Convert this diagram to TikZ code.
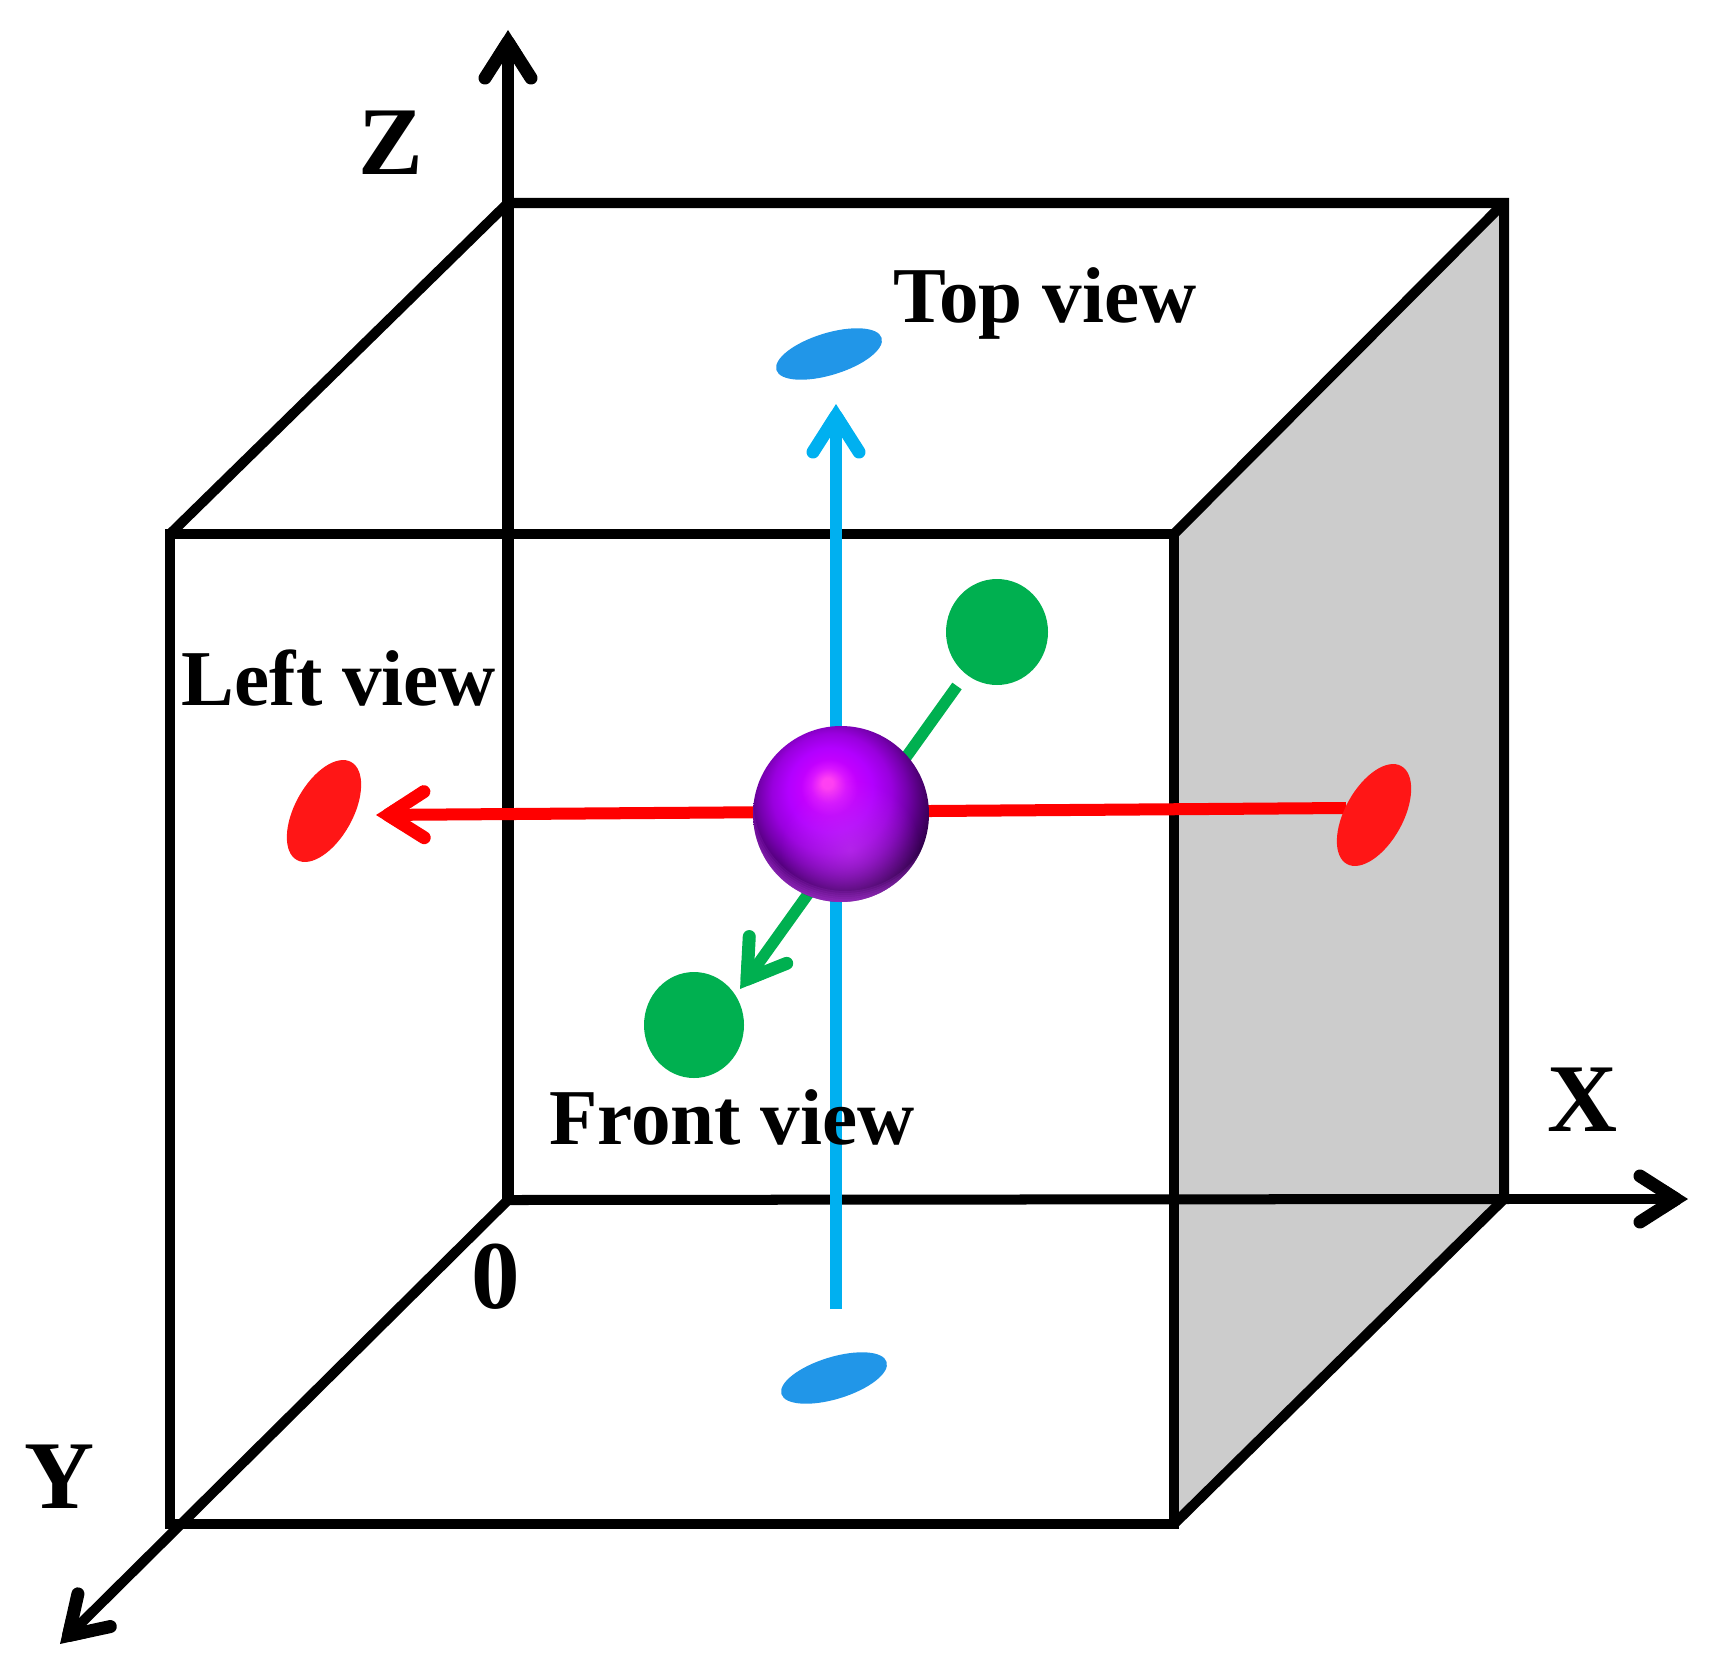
\documentclass[tikz,border=0pt]{standalone}
\usepackage{fontspec}
\setmainfont{Liberation Serif}
\usetikzlibrary{arrows.meta,fadings}
\definecolor{viewblue}{HTML}{00B0F0}
\definecolor{dotblue}{HTML}{2196E8}
\definecolor{viewred}{HTML}{FF0000}
\definecolor{dotred}{HTML}{FF1616}
\definecolor{viewgreen}{HTML}{00B050}
\definecolor{ballrim}{rgb}{0.8,0.25,1}
\definecolor{ballglow}{rgb}{0.78,0.25,0.95}
\pgfdeclareradialshading{atomball}{\pgfpoint{-4bp}{9bp}}{
	rgb(0bp)=(1,0.25,0.95);
	rgb(1.5bp)=(1,0.25,0.95);
	rgb(5bp)=(0.85,0.08,1);
	rgb(8bp)=(0.76,0,1);
	rgb(12bp)=(0.7,0,1);
	rgb(17bp)=(0.6,0,0.87);
	rgb(21bp)=(0.46,0,0.68);
	rgb(25bp)=(0.3,0,0.45);
	rgb(29bp)=(0.16,0,0.25);
	rgb(34bp)=(0.08,0,0.12);
	rgb(50bp)=(0.08,0,0.12)}
\tikzfading[name=glowfade, inner color=transparent!45, outer color=transparent!100]
\tikzset{
	viewtip/.style={-{Straight Barb[length=0.36cm,width=0.46cm,round,line width=0.13cm,sep=-0.185cm]Triangle[length=0.24cm,width=0.3cm,line width=0pt]}},
	axis/.style={line width=0.1cm, viewtip},
	boxline/.style={line width=0.1cm, line join=miter},
	labeltext/.style={font=\bfseries\fontsize{22.5}{24}\selectfont, anchor=base, inner sep=0},
	axislabel/.style={font=\bfseries\fontsize{27.6}{30}\selectfont, anchor=base, inner sep=0},
}
\begin{document}
\begin{tikzpicture}[x=0.01cm, y=-0.01cm]
			%%%%% START %%%%%
			\useasboundingbox (0, 0) rectangle (1713, 1673);
			
			\coordinate (origin) at (508, 1200);
			\coordinate (backtl) at (508, 203);
			\coordinate (backtr) at (1504, 203);
			\coordinate (backbr) at (1504, 1199);
			\coordinate (fronttl) at (170, 534);
			\coordinate (fronttr) at (1174, 534);
			\coordinate (frontbl) at (170, 1524);
			\coordinate (frontbr) at (1174, 1524);
			
			\fill[black!20] (fronttr) -- (backtr) -- (backbr) -- (frontbr) -- cycle;
			
			\draw[boxline] (fronttl) rectangle (frontbr);
			\draw[boxline] (fronttl) -- (backtl) -- (backtr) -- (backbr) -- (origin);
			\draw[boxline] (fronttr) -- (backtr);
			\draw[boxline] (frontbr) -- (backbr);
			
			\draw[axis, line width=0.115cm] (origin) -- (508, 30);
			\draw[axis] (backbr) -- (1688, 1199);
			\draw[axis] (origin) -- (60, 1644);
			
			\draw[line width=0.12cm, viewblue, viewtip] (836, 1309) -- (836, 404);
			\draw[line width=0.12cm, viewred, viewtip] (1346, 808) -- (376, 815);
			\draw[line width=0.115cm, viewgreen, viewtip] (957, 686) -- (740, 989);
			
			\fill[viewgreen] (997, 632) ellipse (51 and 53);
			\fill[viewgreen] (694, 1025) ellipse (50 and 53);
			\fill[dotred, rotate around={61:(324, 811)}] (324, 811) ellipse (56 and 29);
			\fill[dotred, rotate around={61:(1374, 815)}] (1374, 815) ellipse (56 and 29);
			\fill[dotblue, rotate around={17:(829, 354)}] (829, 354) ellipse (55 and 21);
			\fill[dotblue, rotate around={17:(834, 1378)}] (834, 1378) ellipse (55 and 21);
			
			\shade[shading=atomball] (841, 814) circle (88);
			\begin{scope}
				\clip (841, 814) circle (88);
				\fill[ballglow, path fading=glowfade] (850, 850) circle (70);
				\foreach \rimr in {102, 100, 98, 96, 94, 92}
					\fill[ballrim, opacity=0.13, even odd rule] (841, 814) circle (90) (845, 799) circle (\rimr);
			\end{scope}
			
			\node[labeltext] (topview) at (1045, 323) {Top view};
			\node[labeltext] (leftview) at (339, 705) {Left view};
			\node[labeltext] (frontview) at (732, 1144) {Front view};
			\node[axislabel] (zlabel) at (391, 175) {Z};
			\node[axislabel] (xlabel) at (1583, 1131) {X};
			\node[axislabel] (ylabel) at (60, 1508) {Y};
			\node[axislabel] (zerolabel) at (496, 1308) {0};
			
			%%%%% END %%%%%
		\end{tikzpicture}
\end{document}
